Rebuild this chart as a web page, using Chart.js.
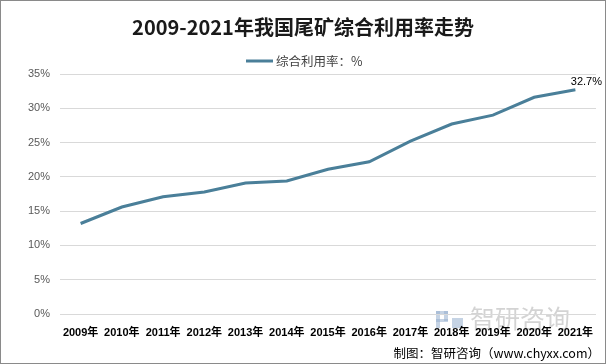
<!DOCTYPE html>
<html>
<head>
<meta charset="utf-8">
<script src="https://cdn.jsdelivr.net/npm/chart.js@4.4.1/dist/chart.umd.min.js"></script>
<style>
html,body{margin:0;padding:0;background:#fff;}
#wrap{position:absolute;left:0;top:0;width:606px;height:364px;}
</style>
</head>
<body>
<div id="wrap"><canvas id="c" width="606" height="364"></canvas></div>
<script>
const categories = ['2009年','2010年','2011年','2012年','2013年','2014年','2015年','2016年','2017年','2018年','2019年','2020年','2021年'];
const utilizationRate = [13.2, 15.6, 17.1, 17.8, 19.1, 19.4, 21.1, 22.2, 25.2, 27.7, 29.0, 31.6, 32.7];
const seriesName = '综合利用率：%';
const titleText = '2009-2021年我国尾矿综合利用率走势';
const sourceText = '制图：智研咨询（www.chyxx.com）';
const watermarkText = '智研咨询';
const lastLabel = '32.7%';

const CJK = '"Noto Sans CJK SC", sans-serif';
const LAT = '"Liberation Sans", "Noto Sans CJK SC", sans-serif';

const decor = {
  id: 'decor',
  beforeDraw(chart) {
    const ctx = chart.ctx;
    ctx.save();
    ctx.fillStyle = '#fff';
    ctx.fillRect(0, 0, chart.width, chart.height);
    // watermark
    ctx.fillStyle = 'rgba(175,175,175,0.55)';
    ctx.font = '25px ' + CJK;
    ctx.textAlign = 'left';
    ctx.textBaseline = 'middle';
    ctx.fillText(watermarkText, 470, 318);
    ctx.fillStyle = 'rgba(150,175,205,0.55)';
    ctx.fillRect(436, 311, 12, 4);
    ctx.fillRect(444, 311, 4, 10);
    ctx.fillRect(436, 319, 12, 3);
    ctx.fillRect(436, 311, 4, 17);
    ctx.fillRect(452, 318, 11, 10);
    ctx.restore();
  },
  afterDraw(chart) {
    const ctx = chart.ctx;
    ctx.save();
    // title
    ctx.fillStyle = '#1a1a1a';
    ctx.font = 'bold 20px ' + CJK;
    ctx.textAlign = 'center';
    ctx.textBaseline = 'middle';
    ctx.fillText(titleText, 303, 27);
    // legend
    ctx.strokeStyle = '#4a7f99';
    ctx.lineWidth = 3;
    ctx.beginPath();
    ctx.moveTo(246, 61);
    ctx.lineTo(273, 61);
    ctx.stroke();
    ctx.fillStyle = '#404040';
    ctx.font = '12.5px ' + CJK;
    ctx.textAlign = 'left';
    ctx.fillText(seriesName, 276, 61);
    // data label on last point
    const meta = chart.getDatasetMeta(0);
    const p = meta.data[meta.data.length - 1];
    ctx.fillStyle = '#000';
    ctx.font = '11px ' + LAT;
    ctx.textAlign = 'center';
    ctx.fillText(lastLabel, p.x + 11, p.y - 8);
    // source
    ctx.fillStyle = '#000';
    ctx.font = '12.5px ' + CJK;
    ctx.textAlign = 'right';
    ctx.fillText(sourceText, 600, 353);
    // border
    ctx.strokeStyle = '#8a8a8a';
    ctx.lineWidth = 1;
    ctx.strokeRect(0.5, 0.5, chart.width - 1, chart.height - 1);
    ctx.restore();
  }
};

new Chart(document.getElementById('c'), {
  type: 'line',
  data: {
    labels: categories,
    datasets: [{
      label: seriesName,
      data: utilizationRate,
      borderColor: '#4a7f99',
      borderWidth: 3,
      pointRadius: 0,
      tension: 0,
      fill: false
    }]
  },
  options: {
    responsive: false,
    animation: false,
    layout: { padding: { top: 74, right: 10, left: 0, bottom: 0 } },
    plugins: { legend: { display: false }, title: { display: false }, tooltip: { enabled: false } },
    scales: {
      x: {
        offset: true,
        grid: { display: false },
        border: { display: false },
        ticks: { color: '#000', font: { family: LAT, size: 11, weight: 'bold' }, padding: 4, maxRotation: 0, autoSkip: false },
        afterFit(s) { s.height = 50; }
      },
      y: {
        min: 0, max: 35,
        grid: { color: '#d9d9d9', drawTicks: false },
        border: { display: false },
        ticks: { stepSize: 5, color: '#595959', font: { family: LAT, size: 11 }, padding: 10, callback: v => v + '%' },
        afterFit(s) { s.width = 60; }
      }
    }
  },
  plugins: [decor]
});
</script>
</body>
</html>
